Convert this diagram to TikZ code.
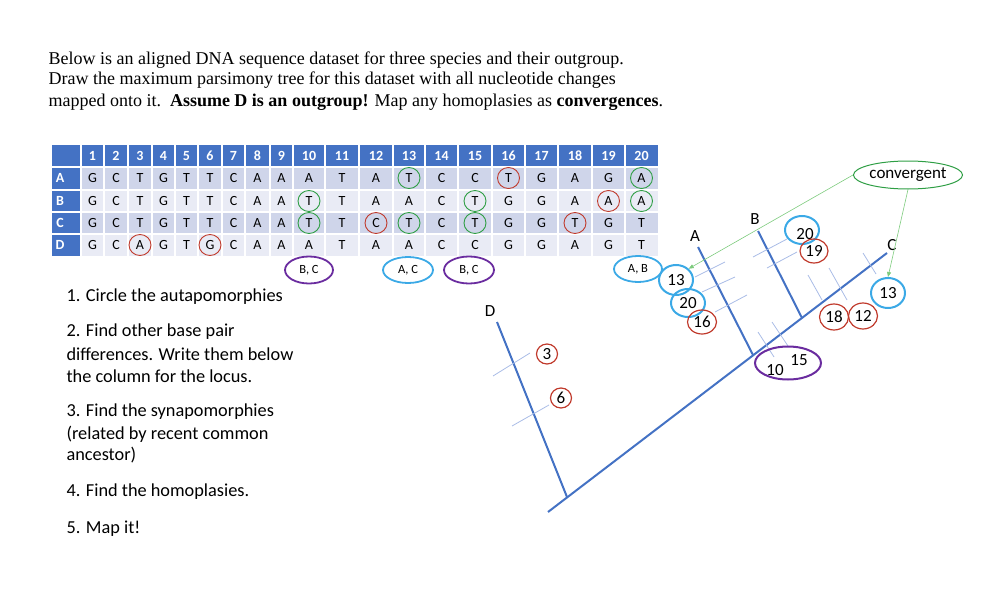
\documentclass[tikz,border=0pt]{standalone}
\usepackage{fontspec}
\setmainfont{Liberation Serif}
\newfontfamily\calf{Carlito}
\usetikzlibrary{arrows.meta,shapes.geometric}
\definecolor{hdr}{HTML}{4472C4}
\definecolor{rowd}{HTML}{CFD5EA}
\definecolor{rowl}{HTML}{E9EBF5}
\definecolor{cred}{HTML}{C0392B}
\definecolor{cgrn}{HTML}{2E9E44}
\definecolor{cblu}{HTML}{3BA9E6}
\definecolor{cpur}{HTML}{6A2C9F}
\definecolor{tree}{HTML}{4472C4}
\definecolor{tick}{HTML}{A9BCE6}
\definecolor{lgrn}{HTML}{7DCB7D}
\begin{document}
\begin{tikzpicture}[x=1pt,y=-1pt,
  circ/.style={draw,ellipse,line width=1.2pt,minimum width=22pt,minimum height=21pt,inner sep=0pt},
  tk/.style={draw=tick,line width=0.8pt},
  br/.style={draw=tree,line width=2pt},
  hd/.style={anchor=west,font=\fontsize{18}{18}\selectfont},
  lab/.style={font=\calf\fontsize{17}{17}\selectfont}]
\useasboundingbox (0,0) rectangle (1002,602);
% heading
\node[hd] (h1) at (45,60) {Below is an aligned DNA sequence dataset for three species and their outgroup.};
\node[hd] (h2) at (45,80) {Draw the maximum parsimony tree for this dataset with all nucleotide changes};
\node[hd] (h3) at (45,102) {mapped onto it.\ \ \textbf{Assume D is an outgroup!} Map any homoplasies as \textbf{convergences}.};
% table
\fill[hdr] (52,145) rectangle (658,167);
\fill[hdr] (52,167) rectangle (81,256);
\fill[rowd] (81,167) rectangle (658,190);
\fill[rowl] (81,190) rectangle (658,212);
\fill[rowd] (81,212) rectangle (658,234);
\fill[rowl] (81,234) rectangle (658,256);
\foreach \xx in {81,104,128,152,175,198,222,245,270,293,325,359,393,425,458,492,525,558,592,625}{\draw[white,line width=1.5pt] (\xx,145)--(\xx,256);}
\foreach \yy in {167,190,212,234}{\draw[white,line width=1.5pt] (52,\yy)--(658,\yy);}
\def\cents{92.5,116,140,163.5,186.5,210,233.5,257.5,281.5,309,342,376,409,441.5,475,508.5,541.5,575,608.5,641.5}
\foreach \xc [count=\i] in \cents {
  \node[white,font=\calf\bfseries\fontsize{14}{14}\selectfont] (hc\i) at (\xc,156) {\i};}
\foreach \r/\y/\s in {A/178/{G,C,T,G,T,T,C,A,A,A,T,A,T,C,C,T,G,A,G,A},
                      B/201/{G,C,T,G,T,T,C,A,A,T,T,A,A,C,T,G,G,A,A,A},
                      C/223/{G,C,T,G,T,T,C,A,A,T,T,C,T,C,T,G,G,T,G,T},
                      D/245/{G,C,A,G,T,G,C,A,A,A,T,A,A,C,C,G,G,A,G,T}}{
  \node[white,font=\calf\bfseries\fontsize{14}{14}\selectfont] (r\r) at (60,\y) {\r};
  \foreach \c [count=\i] in \s {
    \node[font=\calf\fontsize{14}{14}\selectfont] (\r\i) at (hc\i |- 0,\y) {\c};}}
\foreach \n/\c in {A13/cgrn,A16/cred,A20/cgrn,B10/cgrn,B15/cgrn,B19/cred,B20/cgrn,C10/cgrn,C12/cred,C13/cgrn,C15/cgrn,C18/cred,D3/cred,D6/cred}
  \node[circ,draw=\c,line width=0.9pt] (o\n) at (\n) {};
% below table ovals
\node[circ,draw=cpur,line width=1.8pt,minimum width=48pt,minimum height=27pt,font=\calf\fontsize{12.5}{12.5}\selectfont] (p1) at (309,270) {B, C};
\node[circ,draw=cblu,line width=1.8pt,minimum width=50pt,minimum height=26pt,font=\calf\fontsize{12.5}{12.5}\selectfont] (p2) at (408,270) {A, C};
\node[circ,draw=cpur,line width=1.8pt,minimum width=50pt,minimum height=27pt,font=\calf\fontsize{12.5}{12.5}\selectfont] (p3) at (469,270) {B, C};
\node[circ,draw=cblu,line width=1.8pt,minimum width=48pt,minimum height=26pt,font=\calf\fontsize{12.5}{12.5}\selectfont] (p4) at (638,269) {A, B};
% instructions
\foreach \t/\y [count=\k] in {{1. Circle the autapomorphies}/297,{2. Find other base pair}/332,{differences. Write them below}/354,{the column for the locus.}/376,{3. Find the synapomorphies}/412,{(related by recent common}/434,{ancestor)}/455,{4. Find the homoplasies.}/492,{5. Map it!}/529}
  \node[anchor=west,font=\calf\fontsize{18.3}{18.3}\selectfont] (t\k) at (63,\y) {\t};
% tree
\coordinate (root) at (548,512);
\coordinate (jd) at (567,497);
\coordinate (ja) at (753,355);
\coordinate (jb) at (802,318);
\coordinate (ec) at (887,253);
\coordinate (ed) at (497,322);
\coordinate (ea) at (698,247);
\coordinate (eb) at (758,231);
\draw[br] (root)--(ec);
\draw[br] (jd)--(ed);
\draw[br] (ja)--(ea);
\draw[br] (jb)--(eb);
\node[lab] (lD) at (490,311) {D};
\node[lab] (lA) at (695,236) {A};
\node[lab] (lB) at (755,219) {B};
\node[lab] (lC) at (892,245) {C};
% ticks
\draw[tk] (493,376)--(530,353);
\draw[tk] (512,426)--(549,405);
\draw[tk] (695,277)--(725,262);
\draw[tk] (702,292)--(735,277);
\draw[tk] (715,312)--(747,295);
\draw[tk] (753,257)--(787,239);
\draw[tk] (767,268)--(797,252);
\draw[tk] (808,275)--(822,300);
\draw[tk] (829,268)--(847,300);
\draw[tk] (863,253)--(876,274);
\draw[tk] (758,332)--(774,357);
\draw[tk] (772,322)--(788,346);
% change labels
\node[circ,draw=cred,minimum width=21pt,minimum height=20pt,lab] (n3) at (547,354) {3};
\node[circ,draw=cred,minimum width=21pt,minimum height=20pt,lab] (n6) at (561,398) {6};
\node[circ,draw=cblu,line width=2pt,minimum width=34pt,minimum height=30pt,lab] (n13a) at (676,280) {13};
\node[circ,draw=cblu,line width=2pt,minimum width=34pt,minimum height=28pt,lab] (n20a) at (688,303) {20};
\node[circ,draw=cred,minimum width=29pt,minimum height=24pt,lab] (n16) at (702,322) {16};
\node[circ,draw=cblu,line width=2pt,minimum width=34pt,minimum height=28pt,lab,inner sep=0pt] (n20b) at (802,230) {};
\node[lab] (t20b) at (805,234) {20};
\node[circ,draw=cred,minimum width=28pt,minimum height=24pt,lab] (n19) at (814,251) {19};
\node[circ,draw=cred,minimum width=29pt,minimum height=26pt,lab] (n18) at (834,317) {18};
\node[circ,draw=cred,minimum width=29pt,minimum height=26pt,lab] (n12) at (863,316) {12};
\node[circ,draw=cblu,line width=2pt,minimum width=34pt,minimum height=30pt,lab] (n13b) at (888,293) {13};
\node[circ,draw=cpur,line width=2pt,minimum width=66pt,minimum height=33pt] (n1015) at (788,363) {};
\node[lab] (t10) at (775,370) {10};
\node[lab] (t15) at (799,360) {15};
\node[circ,draw=cgrn,line width=1pt,minimum width=108pt,minimum height=28pt,lab] (conv) at (908,175) {convergent};
\draw[lgrn,line width=0.6pt,-{Triangle[length=5pt,width=4pt]}] (conv.west)--(n13a.north east);
\draw[lgrn,line width=0.6pt,-{Triangle[length=5pt,width=4pt]}] (conv.south)--(n13b.north);
\end{tikzpicture}
\end{document}
